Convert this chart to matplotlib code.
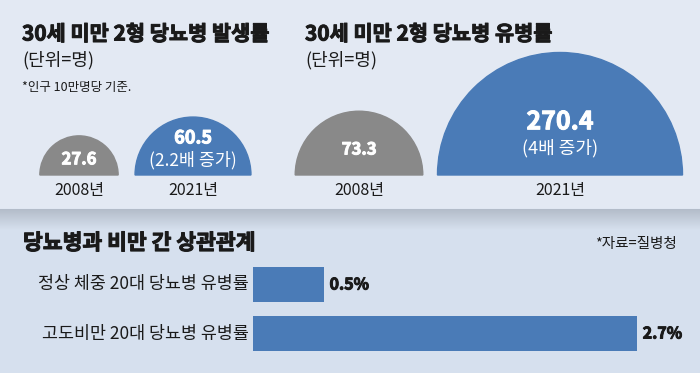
import numpy as np
import matplotlib.pyplot as plt
import matplotlib.patheffects as pe
from matplotlib.patches import Wedge, Rectangle

plt.rcParams['font.family'] = ['Noto Sans CJK KR', 'DejaVu Sans']

years = ['2008년', '2021년']
incidence = [27.6, 60.5]
incidence_notes = ['', '(2.2배 증가)']
prevalence = [73.3, 270.4]
prevalence_notes = ['', '(4배 증가)']
bar_labels = ['정상 체중 20대 당뇨병 유병률', '고도비만 20대 당뇨병 유병률']
bar_values = [0.5, 2.7]

gray = '#898989'
blue = '#4A7BB7'
ink = '#1a1a1a'

# slightly heavier bold, like the original typeface
dark_fx = [pe.withStroke(linewidth=0.7, foreground=ink)]
white_fx = [pe.withStroke(linewidth=0.7, foreground='white')]

W, H = 700, 373
fig = plt.figure(figsize=(7, 3.73), dpi=100)
ax = fig.add_axes([0, 0, 1, 1])
ax.set_xlim(0, W)
ax.set_ylim(H, 0)
ax.axis('off')

# backgrounds
ax.add_patch(Rectangle((0, 0), W, 209, color='#E3E9F3', zorder=0))
ax.add_patch(Rectangle((0, 209), W, H - 209, color='#D6E0EE', zorder=0))
grad = np.linspace(0, 1, 64).reshape(-1, 1)
c0 = np.array([0xB3, 0xBC, 0xC9]) / 255
c1 = np.array([0xD6, 0xE0, 0xEE]) / 255
img = c0 + (c1 - c0) * grad[..., None]
ax.imshow(img, extent=(0, W, 230, 209), aspect='auto', zorder=1)

# semicircles, area proportional to value
k = 7.45
base = 175

def half_circles(cx_list, values, notes, big):
    for i, (cx, v, note) in enumerate(zip(cx_list, values, notes)):
        r = k * np.sqrt(v)
        col = gray if i == 0 else blue
        ax.add_patch(Wedge((cx, base), r, 180, 360, color=col, zorder=2))
        ax.text(cx, base + 15, years[i], ha='center', va='center',
                fontsize=11.5, color=ink, zorder=3)
        if note:
            ax.text(cx, base - r * big[0], f'{v}', ha='center', va='center',
                    fontsize=big[1], fontweight='bold', color='white', zorder=3,
                    path_effects=white_fx)
            ax.text(cx, base - r * big[2], note, ha='center', va='center',
                    fontsize=big[3], color='white', zorder=3)
        else:
            ax.text(cx, base - r * 0.4, f'{v}', ha='center', va='center',
                    fontsize=12, fontweight='bold', color='white', zorder=3,
                    path_effects=white_fx)

half_circles([79, 193], incidence, incidence_notes, (0.64, 13, 0.26, 12.5))
half_circles([359, 560], prevalence, prevalence_notes, (0.43, 18, 0.22, 13))

# titles
ax.text(22, 34, '30세 미만 2형 당뇨병 발생률', ha='left', va='center',
        fontsize=15, fontweight='bold', color=ink, path_effects=dark_fx)
ax.text(22, 60, '(단위=명)', ha='left', va='center', fontsize=13, color=ink)
ax.text(22, 88, '*인구 10만명당 기준.', ha='left', va='center', fontsize=9, color=ink)
ax.text(305, 34, '30세 미만 2형 당뇨병 유병률', ha='left', va='center',
        fontsize=15, fontweight='bold', color=ink, path_effects=dark_fx)
ax.text(305, 60, '(단위=명)', ha='left', va='center', fontsize=13, color=ink)

ax.text(23, 243, '당뇨병과 비만 간 상관관계', ha='left', va='center',
        fontsize=15.5, fontweight='bold', color=ink, path_effects=dark_fx)
ax.text(677, 244, '*자료=질병청', ha='right', va='center', fontsize=10.5, color=ink)

# bar chart
bx = fig.add_axes([253 / W, 1 - 358 / H, 427 / W, 98 / H])
bx.barh(range(len(bar_values)), bar_values, height=0.71, color=blue)
bx.set_xlim(0, 3.0)
bx.set_ylim(1.5, -0.5)
bx.axis('off')
for i, (lab, v) in enumerate(zip(bar_labels, bar_values)):
    bx.text(-0.028, i, lab, ha='right', va='center', fontsize=12.5, color=ink)
    bx.text(v + 0.038, i, f'{v}%', ha='left', va='center', fontsize=11.5,
            fontweight='bold', color=ink, path_effects=dark_fx)

fig.savefig('out.png', dpi=100)
